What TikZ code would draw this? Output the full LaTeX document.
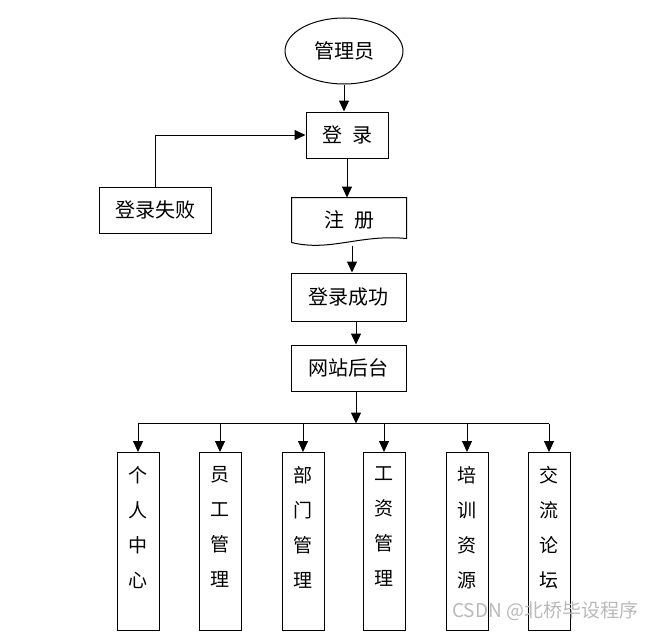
\documentclass[tikz,border=0pt]{standalone}
\usepackage{fontspec}
\setmainfont{Noto Sans CJK SC}
\usetikzlibrary{shapes.geometric, arrows.meta, calc, positioning}

\begin{document}
\begin{tikzpicture}[x=1pt,y=-1pt,
    box/.style={draw, line width=1pt, inner sep=0pt, font=\fontsize{20}{24}\selectfont},
    arr/.style={-{Triangle[length=11pt,width=10pt]}, line width=1pt},
    modbox/.style={draw, line width=1pt, minimum width=42pt, minimum height=178pt, anchor=north, inner sep=0pt},
    modtext/.style={anchor=north, align=center, inner sep=0pt, font=\fontsize{19}{35}\selectfont}]
    \useasboundingbox (0,0) rectangle (658,634);

    % 上部流程
    \node[box, ellipse, minimum width=118pt, minimum height=66pt] (guanli) at (344,51) {管理员};
    \node[box, minimum width=82pt, minimum height=46pt] (denglu) at (347,135) {登\hspace{0.5em}录};
    \node[box, minimum width=112pt, minimum height=46pt] (shibai) at (155,210) {登录失败};
    \node[box, draw=none, minimum width=114pt, minimum height=44pt] (zhuce) at (349,220) {注\hspace{0.5em}册};
    \draw[line width=1pt] (zhuce.south west) -- (zhuce.north west) -- (zhuce.north east)
        -- ($(zhuce.south east)+(0,-4)$) .. controls (360,234) and (330,252) .. (zhuce.south west);
    \node[box, minimum width=115pt, minimum height=48pt] (chenggong) at (348.5,297) {登录成功};
    \node[box, minimum width=115pt, minimum height=46pt] (houtai) at (348.5,368) {网站后台};

    % 连线
    \draw[arr] (guanli.south) -- (guanli.south |- denglu.north);
    \draw[arr] (shibai.north) |- (denglu.west);
    \draw[arr] (denglu.south) -- (denglu.south |- zhuce.north);
    \draw[arr] ($(zhuce.south)+(3,3)$) -- ($(chenggong.north)+(3.5,0)$);
    \draw[arr] ($(chenggong.south)+(7.5,0)$) -- ($(houtai.north)+(7.5,0)$);
    \coordinate (bus) at ($(houtai.south)+(7.5,32)$);
    \draw[arr] ($(houtai.south)+(7.5,0)$) -- (bus);

    % 功能模块
    \foreach \x/\t [count=\i] in {138/{个\\人\\中\\心}, 220/{员\\工\\管\\理}, 303/{部\\门\\管\\理},
        384/{工\\资\\管\\理}, 467/{培\\训\\资\\源}, 549/{交\\流\\论\\坛}} {
        \node[modbox] (m\i) at (\x,452) {};
        \node[modtext] (t\i) at ($(m\i.north)+(0,14)$) {\t};
        \draw[arr] (m\i.north |- bus) -- (m\i.north);
    }
    \draw[line width=1pt] (m1.north |- bus) -- (m6.north |- bus);

    % 水印
    \node[text=gray!55, anchor=west, inner sep=0pt, font=\fontsize{19}{22}\selectfont] (csdn) at (452,611) {CSDN @北桥毕设程序};
\end{tikzpicture}
\end{document}
